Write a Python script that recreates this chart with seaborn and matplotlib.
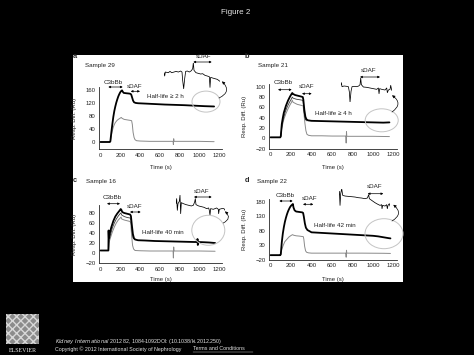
import matplotlib.pyplot as plt
import seaborn as sns
from matplotlib.patches import Ellipse, Rectangle

W, H = 474, 355

# ---- sensorgrams: time (s) and response difference (RU)
a_black_t = [0, 95, 100, 110, 120, 130, 140, 150, 160, 170, 180, 190, 200, 210, 218, 225, 235, 260, 290, 305,
             312, 320, 330, 340, 355, 380, 450, 550, 650, 750, 850, 950, 1050, 1150]
a_black_v = [0, 0, 2, 30, 55, 78, 96, 110, 122, 132, 141, 148, 154, 158, 160, 156, 152, 151, 150, 149,
             146, 138, 128, 123, 121, 120, 119, 117.5, 116, 115, 114, 112.5, 111, 110]
a_grey_t = [0, 95, 100, 110, 120, 130, 140, 150, 165, 180, 200, 210, 220, 240, 260, 280, 300, 315, 322, 330,
            340, 350, 365, 400, 500, 600, 735, 738, 741, 744, 800, 1000, 1150]
a_grey_v = [0, 0, 2, 20, 35, 46, 54, 60, 66, 70, 74, 76, 73, 70, 69, 68, 67, 66, 55, 30,
            14, 7, 4, 3, 2, 2, 2, -8, 10, 2, 2, 2, 1]

b_black_t = [0, 95, 100, 110, 120, 130, 150, 170, 190, 205, 212, 220, 240, 260, 280, 300, 315, 320, 330, 340,
             350, 365, 400, 500, 600, 700, 800, 900, 1000, 1100, 1160]
b_black_v = [2, 2, 4, 28, 40, 50, 63, 73, 81, 86, 88, 86, 84, 83, 82, 81, 80, 75, 55, 42,
             37, 35, 34, 33.5, 33, 32.5, 32, 31.5, 31, 30.5, 31]
b_mid_t = [100, 110, 125, 145, 165, 185, 205, 212, 220, 250, 280, 310, 318, 328, 338, 350]
b_mid_v = [4, 22, 38, 52, 62, 70, 77, 80, 78, 76, 75, 74, 72, 50, 38, 34]
b_grey_t = [0, 95, 100, 110, 130, 150, 170, 190, 205, 212, 220, 240, 260, 280, 300, 318, 325, 335, 345, 355,
            370, 400, 500, 600, 735, 738, 741, 744, 800, 1000, 1160]
b_grey_v = [2, 2, 4, 20, 37, 48, 57, 65, 70, 74, 70, 68, 66, 65, 64, 63, 50, 30, 15, 8,
            6, 5, 5, 4.5, 4.5, -9, 13, 4, 4, 4, 3.5]

c_black_t = [0, 80, 82, 85, 95, 110, 130, 150, 170, 190, 205, 212, 220, 240, 260, 280, 300, 308, 318, 328,
             338, 350, 380, 450, 550, 650, 750, 850, 950, 980, 982, 985, 990, 1050, 1100, 1160]
c_black_v = [5, 5, 45, 30, 40, 52, 64, 73, 79, 84, 88, 86, 82, 80, 79, 78, 77, 74, 55, 38,
             30, 27, 25.5, 25, 24, 23.5, 23, 22.5, 22, 22, 28, 16, 22, 21.5, 21, 20]
c_mid_t = [82, 88, 100, 120, 140, 160, 180, 200, 206, 215, 240, 270, 300, 308, 318, 330, 345]
c_mid_v = [5, 25, 36, 50, 60, 68, 74, 79, 80, 76, 73, 71, 70, 66, 45, 30, 27]
c_grey_t = [0, 80, 85, 100, 120, 140, 160, 180, 200, 208, 215, 240, 260, 280, 300, 306, 315, 325, 335, 350,
            400, 500, 735, 738, 741, 744, 800, 1000, 1160]
c_grey_v = [5, 5, 20, 30, 42, 52, 60, 66, 70, 72, 68, 66, 65, 64, 63, 60, 35, 15, 8, 5,
            4.5, 4, 4, -10, 12, 4, 4, 4, 3.5]

d_black_t = [0, 95, 100, 110, 120, 130, 140, 150, 160, 170, 180, 190, 200, 212, 218, 224, 235, 250, 270, 290,
             310, 318, 325, 335, 345, 360, 380, 400, 500, 600, 700, 800, 900, 950, 1000, 1050, 1100, 1150, 1170]
d_black_v = [-5, -5, -2, 40, 70, 92, 110, 124, 136, 146, 154, 161, 166, 170, 172, 160, 150, 146, 145, 144,
             143, 141, 128, 105, 90, 82, 78, 74, 72, 70, 68, 66, 64, 63, 62, 60, 57, 54, 53]
d_grey_t = [0, 95, 100, 110, 125, 140, 160, 180, 200, 215, 225, 250, 280, 300, 320, 325, 333, 342, 352, 370,
            400, 600, 735, 738, 741, 744, 900, 1100, 1170]
d_grey_v = [-5, -5, -2, 15, 30, 42, 50, 58, 63, 66, 64, 62, 61, 60, 59, 50, 25, 10, 5, 3,
            2, 2, 2, -12, 12, 2, 2, 1.5, 1]

# ---- enlarged sDAF traces drawn as insets (time s, RU offset)
a_ins_t = [10, 20, 30, 75, 100, 125, 160, 190, 225, 260, 280, 290, 305, 320, 335, 360, 390, 420, 440, 450,
           460, 490, 525, 560, 590, 625, 660, 690, 700, 710, 740, 775, 810, 850]
a_ins_v = [50, 40, 52, 50, 54, 50, 52, 54, 52, 55, 52, 27, 2, 32, 54, 55, 52, 56, 62, 80,
           57, 50, 48, 46, 47, 42, 40, 38, 6, 36, 34, 32, 30, 24]
b_ins_t = [10, 20, 30, 60, 100, 125, 140, 150, 165, 180, 210, 250, 280, 300, 310, 320, 350, 400, 450, 500,
           550, 575, 585, 595, 625, 675, 700, 710, 725, 750, 760, 775]
b_ins_v = [50, 58, 46, 48, 47, 46, 30, 0, 32, 46, 47, 46, 48, 52, 72, 52, 45, 44, 42, 40,
           38, 42, 25, 40, 38, 36, 42, 28, 36, 38, 50, 35]
c_ins_t = [15, 25, 35, 45, 65, 75, 85, 95, 125, 165, 205, 245, 275, 295, 305, 315, 355, 395, 435, 475,
           505, 515, 525, 535, 575, 625, 650, 655, 665, 700, 735, 755]
c_ins_v = [35, 50, 15, 35, 42, 60, 5, 38, 35, 32, 30, 28, 30, 40, 50, 32, 28, 26, 24, 20,
           22, 15, 0, 20, 18, 22, 18, 5, 18, 20, 20, 14]
d_ins_t = [5, 15, 25, 35, 50, 65, 100, 150, 200, 250, 300, 350, 400, 435, 455, 465, 500, 550, 585, 625,
           650, 655, 665, 700, 725, 735, 745, 765, 775]
d_ins_v = [40, 52, 10, 45, 60, 40, 38, 37, 36, 35, 33, 32, 30, 32, 42, 30, 25, 18, 14, 10,
           12, 0, 10, 8, 12, 0, 10, 15, 8]

x_ticks = [0, 200, 400, 600, 800, 1000, 1200]
a_yticks = [0, 40, 80, 120, 160]
b_yticks = [-20, 0, 20, 40, 60, 80, 100]
c_yticks = [-20, 0, 20, 40, 60, 80]
d_yticks = [-20, 30, 80, 130, 180]

sns.set_style('white')
plt.rcParams['font.family'] = ['Liberation Sans', 'DejaVu Sans']

fig = plt.figure(figsize=(4.74, 3.55), dpi=100, facecolor='black')


def add_box(left, top, right, bottom):
    # axes placed from pixel edges of the 474x355 slide
    return fig.add_axes([left / W, 1 - bottom / H, (right - left) / W, (bottom - top) / H])


# white figure panel
bg = add_box(73, 55, 403, 282)
bg.set_facecolor('white')
bg.set_xticks([])
bg.set_yticks([])
for s in bg.spines.values():
    s.set_visible(False)


def panel(box, black, grey, ylim, yticks, xlabel_px, ylabel_px, mid=None):
    ax = add_box(*box)
    ax.patch.set_alpha(0)
    sns.lineplot(x=grey[0], y=grey[1], ax=ax, color='#8a8a8a', lw=0.7, sort=False, estimator=None)
    if mid is not None:
        sns.lineplot(x=mid[0], y=mid[1], ax=ax, color='#3a3a3a', lw=0.6, sort=False, estimator=None)
    sns.lineplot(x=black[0], y=black[1], ax=ax, color='black', lw=1.3, sort=False, estimator=None)
    ax.set_xlim(-12, 1230)
    ax.set_ylim(*ylim)
    ax.set_xticks(x_ticks)
    ax.set_yticks(yticks)
    for side in ['top', 'right']:
        ax.spines[side].set_visible(False)
    for side in ['left', 'bottom']:
        ax.spines[side].set_linewidth(0.6)
    ax.tick_params(labelsize=4.3, length=1.5, width=0.5, pad=1.2, colors='#222222')
    ax.set_xlabel('Time (s)', fontsize=4.3, color='#222222')
    ax.set_ylabel('Resp. Diff. (Ru)', fontsize=4.3, color='#222222')
    left, top, right, bottom = box
    ax.xaxis.set_label_coords(0.5, (bottom - xlabel_px) / (bottom - top))
    ax.yaxis.set_label_coords((ylabel_px - left) / (right - left), 0.5)
    return ax


def inset(box, t, v):
    ax = add_box(*box)
    ax.patch.set_alpha(0)
    sns.lineplot(x=t, y=v, ax=ax, color='black', lw=0.55, sort=False, estimator=None)
    ax.set_xlim(min(t), max(t))
    ax.set_ylim(min(v), max(v))
    ax.axis('off')


panel((99.3, 87.1, 222.0, 149.1), (a_black_t, a_black_v), (a_grey_t, a_grey_v), (-22, 170), a_yticks, 165, 77)
panel((269.3, 84.2, 396.6, 148.7), (b_black_t, b_black_v), (b_grey_t, b_grey_v), (-20, 105), b_yticks, 165, 247,
      mid=(b_mid_t, b_mid_v))
panel((99.3, 205.0, 222.0, 263.0), (c_black_t, c_black_v), (c_grey_t, c_grey_v), (-20, 96), c_yticks, 277, 77,
      mid=(c_mid_t, c_mid_v))
panel((269.3, 198.8, 396.6, 259.5), (d_black_t, d_black_v), (d_grey_t, d_grey_v), (-20, 190), d_yticks, 277, 247)

inset((164, 62.7, 220, 88.7), a_ins_t, a_ins_v)
inset((340.7, 78, 391.7, 102), b_ins_t, b_ins_v)
inset((176, 195.3, 225.3, 215.3), c_ins_t, c_ins_v)
inset((338.7, 188.7, 390, 208.7), d_ins_t, d_ins_v)

# overlay in slide pixels for labels, arrows and circles
ov = fig.add_axes([0, 0, 1, 1])
ov.set_xlim(0, W)
ov.set_ylim(H, 0)
ov.axis('off')
ov.patch.set_alpha(0)

ov.text(236, 12.5, 'Figure 2', color='#e6e6e6', fontsize=5.8, ha='center', va='center')

letters = [('a', 75, 57), ('b', 246.7, 57), ('c', 75, 180.3), ('d', 246.7, 180.3)]
for s, x, y in letters:
    ov.text(x, y, s, fontsize=5.3, fontweight='bold', ha='center', va='center')

samples = [('Sample 29', 85, 65), ('Sample 21', 257.7, 66), ('Sample 16', 86, 182), ('Sample 22', 256.7, 182)]
for s, x, y in samples:
    ov.text(x, y, s, fontsize=4.5, ha='left', va='center', color='#222222')

notes = [('C3bBb', 113.3, 82), ('sDAF', 135, 86.3), ('Half-life \u2265 2 h', 165, 96.3), ('sDAF', 203.3, 57),
         ('C3bBb', 283.3, 82.7), ('sDAF', 306.7, 87), ('Half-life \u2265 4 h', 333.3, 113.7), ('sDAF', 368.3, 70.3),
         ('C3bBb', 111.7, 197.7), ('sDAF', 135, 206), ('Half-life 40 min', 163.3, 232), ('sDAF', 201.7, 191.3),
         ('C3bBb', 285, 195.3), ('sDAF', 309.3, 198), ('Half-life 42 min', 335, 225.3), ('sDAF', 375, 187)]
for s, x, y in notes:
    ov.text(x, y, s, fontsize=4.5, ha='center', va='center', color='#222222')

spans = [(108.3, 122.7, 87), (130.7, 140, 91.3), (193.3, 211.7, 62),
         (278, 291.7, 89.7), (302, 311.7, 93.7), (360, 380, 77),
         (107, 120, 203.7), (130, 140.7, 212), (194, 211.7, 197),
         (279.3, 292.7, 201), (303, 313.3, 204.3), (367.7, 383.3, 193.7)]
for x0, x1, y in spans:
    ov.annotate('', xy=(x1, y), xytext=(x0, y),
                arrowprops=dict(arrowstyle='<|-|>', lw=0.5, color='black', mutation_scale=3, shrinkA=0, shrinkB=0))

circles = [(206, 101.6, 28, 21), (381.7, 120.3, 33, 23), (208.3, 230.3, 33, 30), (384, 233.7, 38, 30)]
for x, y, w, h in circles:
    ov.add_patch(Ellipse((x, y), w, h, fill=False, edgecolor='#c4c4c4', lw=0.7))

links = [((219, 98), (222, 81.3)), ((392, 112), (392, 95.3)), ((223.3, 223), (225, 211.3)), ((392, 221), (393.3, 204.7))]
for start, end in links:
    ov.annotate('', xy=end, xytext=start,
                arrowprops=dict(arrowstyle='-|>', lw=0.5, color='black', mutation_scale=4,
                                connectionstyle='arc3,rad=0.7', shrinkA=0, shrinkB=0))

# journal footer
ov.add_patch(Rectangle((6, 314), 33, 30, facecolor='#8c8c8c', edgecolor='#d8d8d8', hatch='xxxx', lw=0))
ov.text(22.5, 350.5, 'ELSEVIER', color='#eeeeee', fontsize=4.3, family='Liberation Serif',
        ha='center', va='center')
ov.text(55, 341.7, r'$\it{Kidney\ International}$ 2012 82, 1084-1092DOI: (10.1038/ki.2012.250)',
        color='#e6e6e6', fontsize=3.8, ha='left', va='center')
ov.text(55, 349, 'Copyright \u00a9 2012 International Society of Nephrology', color='#e6e6e6', fontsize=3.8,
        ha='left', va='center')
ov.text(193, 349, 'Terms and Conditions', color='#e6e6e6', fontsize=3.8, ha='left', va='center')
ov.plot([193, 253], [351.6, 351.6], color='#e6e6e6', lw=0.3)

fig.savefig('out.png', dpi=100, facecolor='black')
